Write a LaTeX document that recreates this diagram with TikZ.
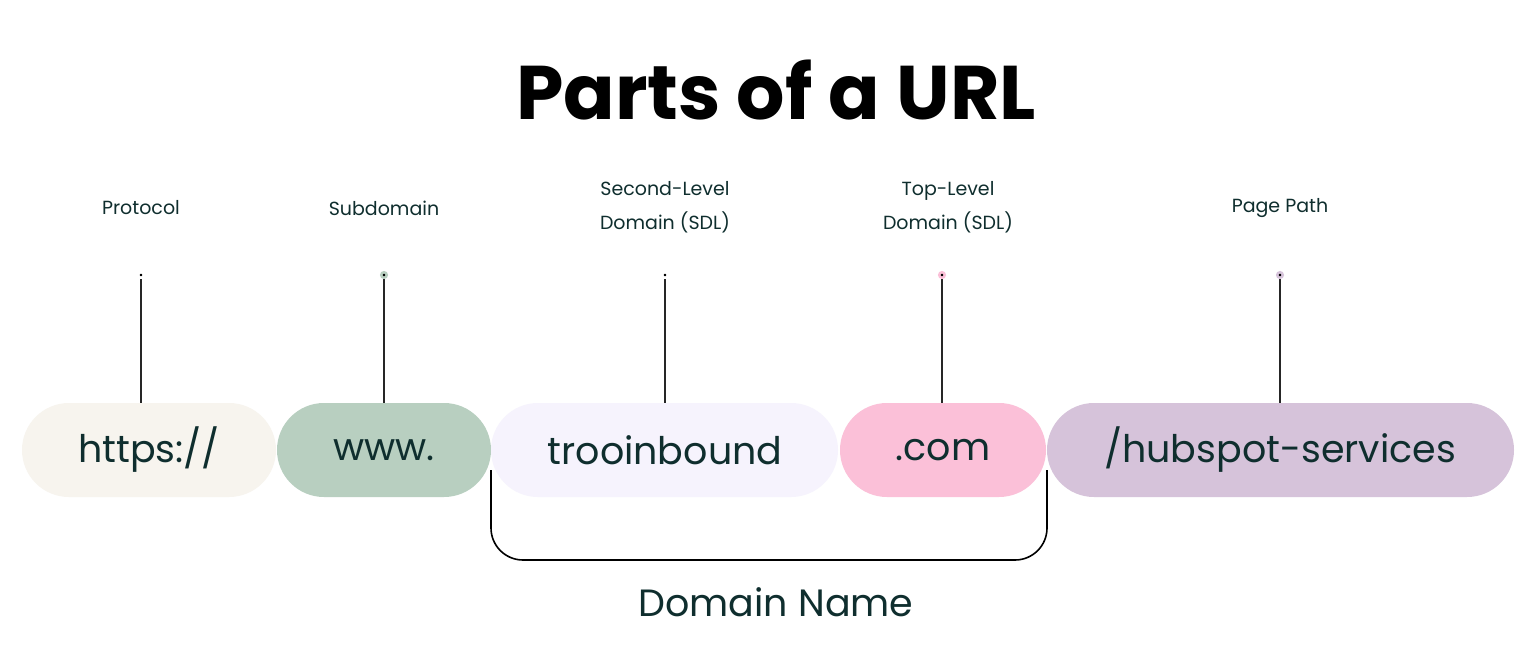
\documentclass[tikz,border=0pt]{standalone}
\usepackage{fontspec}
\setmainfont{Poppins}
\definecolor{ink}{HTML}{0F2E2E}
\definecolor{cA}{HTML}{F7F4EE}
\definecolor{cB}{HTML}{B8CFC0}
\definecolor{cC}{HTML}{F6F3FD}
\definecolor{cD}{HTML}{FBC0D8}
\definecolor{cE}{HTML}{D6C3DA}
\begin{document}
\begin{tikzpicture}[x=1pt,y=-1pt,
  pill/.style={rounded corners=47pt,inner sep=0pt,minimum height=94pt,text=ink,font=\fontsize{38}{40}\selectfont},
  lbl/.style={text=ink,font=\fontsize{19}{34}\selectfont,align=center},
  dotc/.style={circle,inner sep=0pt,minimum size=5.5pt,fill=black,draw=#1,line width=2.5pt},
  conn/.style={line width=1.6pt,draw=black!85}]
\useasboundingbox[fill=white] (0,0) rectangle (1536,667);
\node[font=\bfseries\fontsize{76}{80}\selectfont] (title) at (776,90) {Parts of a URL};
\path[fill=cA,rounded corners=47pt] (22,403) rectangle (276,497);
\node[pill,minimum width=254pt] (p1) at (149,450) {https://};
\fill[cB,rounded corners=47pt] (277,403) rectangle (491,497);
\node[pill,minimum width=214pt] (p2) at (384,450) {www.};
\fill[cC,rounded corners=47pt] (491,403) rectangle (838,497);
\node[pill,minimum width=347pt] (p3) at (665,450) {trooinbound};
\fill[cD,rounded corners=47pt] (840,403) rectangle (1046,497);
\node[pill,minimum width=206pt] (p4) at (943,450) {.com};
\fill[cE,rounded corners=47pt] (1047,403) rectangle (1514,497);
\node[pill,minimum width=467pt] (p5) at (1280,450) {/hubspot-services};
\node[lbl] (l1) at (141,208) {Protocol};
\node[lbl] (l2) at (384,208) {Subdomain};
\node[lbl] (l3) at (665,207) {Second-Level\\Domain (SDL)};
\node[lbl] (l4) at (948,207) {Top-Level\\Domain (SDL)};
\node[lbl] (l5) at (1280,208) {Page Path};
\node[dotc=white] (d1) at (141,275) {};
\node[dotc=cB] (d2) at (384,275) {};
\node[dotc=white] (d3) at (665,275) {};
\node[dotc=cD] (d4) at (942,275) {};
\node[dotc=cE] (d5) at (1280,275) {};
\draw[conn] (d1) -- (141,403);
\draw[conn] (d2) -- (384,403);
\draw[conn] (d3) -- (665,403);
\draw[conn] (d4) -- (942,403);
\draw[conn] (d5) -- (1280,403);
\coordinate (bl) at (491,470);
\coordinate (br) at (1047,470);
\draw[line width=1.6pt,rounded corners=32pt] (bl) -- (491,560) -- (1047,560) -- (br);
\node[text=ink,font=\fontsize{38}{40}\selectfont] (dn) at (776,602) {Domain Name};
\end{tikzpicture}
\end{document}
